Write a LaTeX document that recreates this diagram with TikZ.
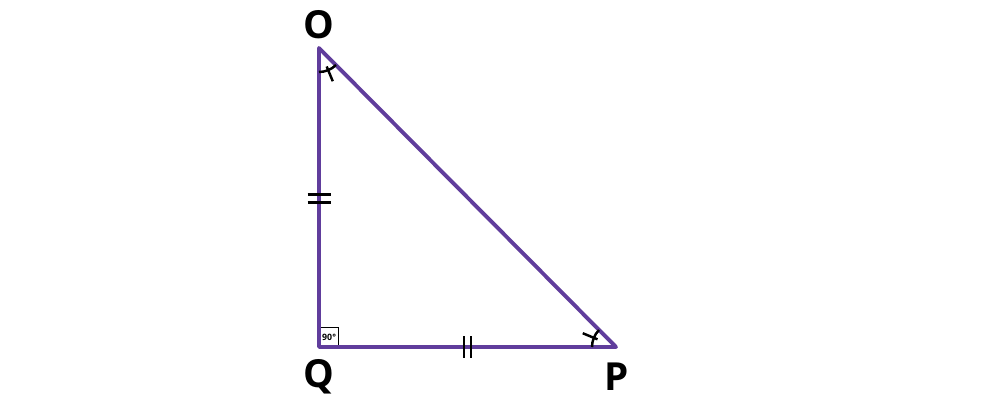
\documentclass[tikz,border=0pt]{standalone}
\usepackage{fontspec}
\setmainfont{Open Sans}
\usetikzlibrary{calc}
\definecolor{tri}{RGB}{96,61,156}
\begin{document}
\begin{tikzpicture}[
  side/.style={draw=tri, line width=2.2pt, line join=round},
  tickmark/.style={draw=black, line width=1.4pt},
  vertex/.style={font=\fontsize{22}{22}\selectfont\bfseries}]
\useasboundingbox (0,0) rectangle (20,8);
\coordinate (o) at (6.38,7.04);
\coordinate (q) at (6.38,1.06);
\coordinate (p) at (12.32,1.06);
\coordinate (m1) at ($(o)!0.5!(q)$);
\coordinate (m2) at ($(q)!0.5!(p)$);

\node[vertex] (lo) at (6.38,7.5) {O};
\node[vertex] (lq) at (6.38,0.47) {Q};
\node[vertex] (lp) at (12.34,0.47) {P};

\node[draw, line width=0.7pt, anchor=south west, minimum size=0.38cm, inner sep=0pt,
  font=\fontsize{5}{5}\selectfont\bfseries] (ra) at (q) {90°};

\path[side] (o) -- (q) -- (p) -- cycle;

% equal sides
\path[tickmark] ([shift={(-0.23,0.06)}]m1) -- ++(0.46,0);
\path[tickmark] ([shift={(-0.23,-0.1)}]m1) -- ++(0.46,0);
\path[tickmark] ([shift={(-0.07,-0.22)}]m2) -- ++(0,0.44);
\path[tickmark] ([shift={(0.07,-0.22)}]m2) -- ++(0,0.44);

% equal angles
\path[tickmark] ([shift={(-90:0.48)}]o) arc[start angle=-90, end angle=-45, radius=0.48];
\path[tickmark] ([shift={(-67.5:0.4)}]o) -- ([shift={(-67.5:0.72)}]o);
\path[tickmark] ([shift={(135:0.48)}]p) arc[start angle=135, end angle=180, radius=0.48];
\path[tickmark] ([shift={(157.5:0.4)}]p) -- ([shift={(157.5:0.72)}]p);
\end{tikzpicture}
\end{document}
